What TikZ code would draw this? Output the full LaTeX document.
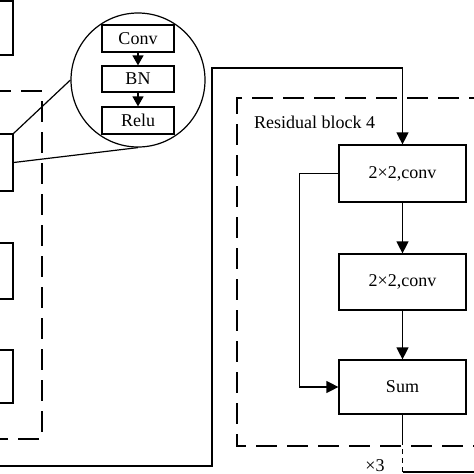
\documentclass[tikz,border=0pt]{standalone}
\usepackage{fontspec}
\setmainfont{Liberation Serif}
\usetikzlibrary{arrows.meta}
\begin{document}
\begin{tikzpicture}[x=1pt,y=-1pt,
  txt/.style={font=\fontsize{18}{20}\selectfont},
  box/.style={draw,line width=1.2pt,minimum width=127pt,inner sep=0pt,txt},
  sbox/.style={draw,line width=1.2pt,minimum width=72pt,inner sep=0pt,txt},
  lbox/.style={draw,line width=1.2pt,minimum width=40pt,inner sep=0pt},
  conn/.style={line width=1.2pt},
  arr/.style={line width=1.2pt,-{Triangle[length=12pt,width=12pt]}},
  sarr/.style={line width=1.2pt,-{Triangle[length=10pt,width=11pt]}},
  dbox/.style={line width=2pt,dash pattern=on 21pt off 10pt},
  lbl/.style={txt,inner sep=0pt}]
\useasboundingbox (0,0) rectangle (474,474);
\clip (0,0) rectangle (474,474);
% left column boxes (partly cut off)
\node[lbox,minimum height=54pt] (b1) at (-7,28) {};
\node[lbox,minimum height=57pt] (b2) at (-7,162.5) {};
\node[lbox,minimum height=56pt] (b3) at (-7,271) {};
\node[lbox,minimum height=53pt] (b4) at (-7,376.5) {};
% left dashed box
\draw[dbox] (-10,91) -- (42,91) -- (42,439) -- (-10,439);
% magnifier circle
\node[draw,circle,line width=1.2pt,minimum size=134pt,inner sep=0pt] (zc) at (138,80) {};
\node[sbox,minimum height=27pt] (ic) at (138,38.5) {Conv};
\node[sbox,minimum height=26pt] (ib) at (138,79) {BN};
\node[sbox,minimum height=27pt] (ir) at (138,120.5) {Relu};
\draw[sarr] (ic.south) -- (ib.north);
\draw[sarr] (ib.south) -- (ir.north);
\draw[conn] (b2.north east) -- (zc.west);
\draw[conn] (b2.east) -- (zc.south);
% right residual block
\draw[dbox] (490,98) -- (237,98) -- (237,446) -- (490,446);
\node[lbl,anchor=west] (title) at (254,122) {Residual block 4};
\node[box,minimum height=57pt] (c1) at (402.5,173.5) {2×2,conv};
\node[box,minimum height=56pt] (c2) at (402.5,282) {2×2,conv};
\node[box,minimum height=54pt] (sum) at (402.5,387) {Sum};
\draw[arr] (c1.south) -- (c2.north);
\draw[arr] (c2.south) -- (sum.north);
\draw[arr] (c1.west) -- ++(-39,0) |- (sum.west);
% long input connector
\coordinate (in) at (-10,466);
\coordinate (top) at (212,68);
\draw[arr] (in) -- (212,466) -- (top) -- (c1.north |- top) -- (c1.north);
% output
\coordinate (o1) at (402.5,440);
\coordinate (o2) at (402.5,472);
\coordinate (o3) at (490,472);
\draw[conn] (sum.south) -- (o1);
\draw[conn,dash pattern=on 5pt off 4pt] (o1) -- (o2);
\draw[line width=1.6pt] (o2) -- (o3);
\node[lbl,anchor=base] (x3) at (375,471) {×3};
\end{tikzpicture}
\end{document}
